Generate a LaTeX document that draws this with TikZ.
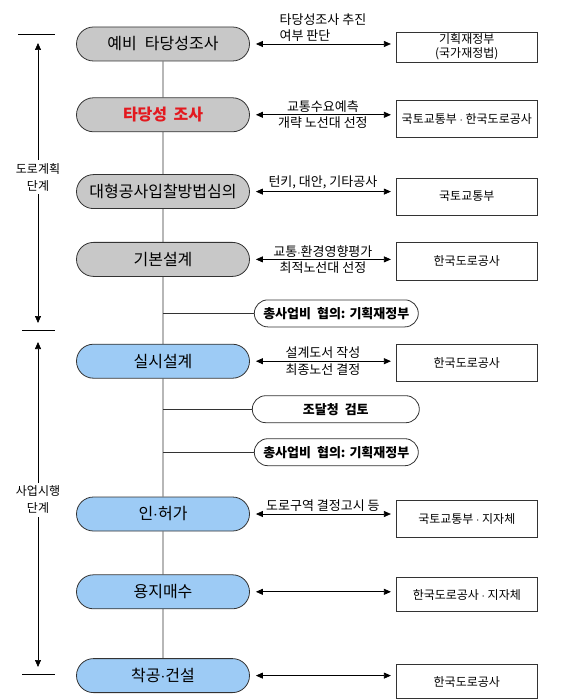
\documentclass[tikz,border=0pt]{standalone}
\usepackage{fontspec}
\setmainfont{Noto Sans CJK KR}
\usepackage{tikz}
\usetikzlibrary{shapes.misc, arrows.meta, positioning}
\definecolor{stagegrey}{HTML}{C8C8C8}
\definecolor{stageblue}{HTML}{9DCBF5}
\definecolor{feasred}{HTML}{E3191F}
\definecolor{edgegrey}{HTML}{333333}

\begin{document}
\begin{tikzpicture}[
  x=1pt, y=-1pt,
  stage/.style={rounded rectangle, draw=edgegrey, line width=0.8pt, fill=stagegrey,
    minimum width=177pt, minimum height=34pt, inner sep=2pt, font=\fontsize{16}{18}\selectfont},
  runstage/.style={stage, fill=stageblue},
  agency/.style={rectangle, draw=edgegrey, line width=0.8pt, fill=white, align=center,
    minimum width=141pt, minimum height=37pt, inner sep=1pt, font=\fontsize{12}{14}\selectfont},
  sidepill/.style={rounded rectangle, draw=edgegrey, line width=0.8pt, fill=white, anchor=west,
    minimum width=166pt, minimum height=27pt, inner sep=1pt, font=\fontsize{13}{15}\selectfont\bfseries},
  phase/.style={align=center, inner sep=3pt, font=\fontsize{12}{17}\selectfont},
  lbl/.style={font=\fontsize{13}{16}\selectfont, inner sep=2pt},
  biarrow/.style={{Triangle[length=7pt,width=6pt]}-{Triangle[length=7pt,width=6pt]}, line width=0.7pt,
    shorten <=6pt, shorten >=5pt},
  arrow/.style={-{Triangle[length=7pt,width=6pt]}, line width=0.7pt},
  stem/.style={line width=0.7pt, draw=edgegrey},
  tick/.style={line width=0.7pt}
]
\useasboundingbox (0,0) rectangle (560,700);

% main stages
\node[stage] (pre) at (163,44) {예비\hspace{0.5em}타당성조사};
\node[stage, below=36pt of pre] (feas) {\textbf{\textcolor{feasred}{타당성\hspace{0.4em}조사}}};
\node[stage, below=42pt of feas] (bid) {대형공사입찰방법심의};
\node[stage, below=33pt of bid] (basic) {기본설계};
\node[runstage, below=67pt of basic] (design) {실시설계};
\node[runstage, below=118pt of design] (permit) {인$\cdot$허가};
\node[runstage, below=43pt of permit] (land) {용지매수};
\node[runstage, below=49pt of land] (build) {착공$\cdot$건설};

\foreach \a/\b in {pre/feas, feas/bid, bid/basic, basic/design, design/permit, permit/land, land/build}
  \draw[stem] (\a) -- (\b);

% agencies
\node[agency, right=146pt of pre, yshift=-3pt, minimum height=30pt, font=\fontsize{12}{14}\selectfont] (ag1) {기획재정부\\(국가재정법)};
\node[agency, right=146pt of feas, yshift=-4pt] (ag2) {국토교통부 $\cdot$ 한국도로공사};
\node[agency, right=146pt of bid, yshift=-5pt] (ag3) {국토교통부};
\node[agency, right=146pt of basic, yshift=-2pt] (ag4) {한국도로공사};
\node[agency, right=146pt of design, yshift=-2pt] (ag5) {한국도로공사};
\node[agency, right=146pt of permit, yshift=-5pt] (ag6) {국토교통부 $\cdot$ 지자체};
\node[agency, right=146pt of land, yshift=-3pt, minimum height=34pt] (ag7) {한국도로공사 $\cdot$ 지자체};
\node[agency, right=146pt of build, yshift=-6pt, minimum height=34pt] (ag8) {한국도로공사};

\draw[biarrow] (pre.east) -- node[lbl, above, align=left] {타당성조사\ 추진\\여부\ 판단} (pre.east -| ag1.west);
\draw[biarrow] (feas.east) -- node[lbl, above] {교통수요예측} node[lbl, below] {개략\ 노선대\ 선정} (feas.east -| ag2.west);
\draw[biarrow] (bid.east) -- node[lbl, above] {턴키, 대안, 기타공사} (bid.east -| ag3.west);
\draw[biarrow] (basic.east) -- node[lbl, above] {교통$\cdot$환경영향평가} node[lbl, below] {최적노선대\ 선정} (basic.east -| ag4.west);
\draw[biarrow] (design.east) -- node[lbl, above] {설계도서\ 작성} node[lbl, below] {최종노선\ 결정} (design.east -| ag5.west);
\draw[biarrow] (permit.east) -- node[lbl, above] {도로구역\ 결정고시\ 등} (permit.east -| ag6.west);
\draw[biarrow] (land.east) -- (land.east -| ag7.west);
\draw[biarrow] (build.east) -- (build.east -| ag8.west);

% side checks
\node[sidepill] (cost1) at ([xshift=4pt, yshift=-54pt]basic.east) {총사업비\ \ 협의: 기획재정부};
\node[sidepill, minimum width=169pt] (review) at ([xshift=2pt, yshift=-48pt]design.east) {조달청\ \ 검토};
\node[sidepill] (cost2) at ([xshift=4pt, yshift=-91pt]design.east) {총사업비\ \ 협의: 기획재정부};
\draw[stem] (cost1.west -| basic.south) -- (cost1.west);
\draw[stem] (review.west -| design.south) -- (review.west);
\draw[stem] (cost2.west -| design.south) -- (cost2.west);

% phases
\coordinate (planTop) at (38,34);
\coordinate (phaseMid) at (38,330);
\coordinate (execEnd) at (38,674);
\node[phase] (plan) at (38,177) {도로계획\\단계};
\node[phase] (exec) at (38,500) {사업시행\\단계};
\draw[tick] ([xshift=-20pt]planTop) -- ([xshift=17pt]planTop);
\draw[tick] ([xshift=-16pt]phaseMid) -- ([xshift=17pt]phaseMid);
\draw[tick] ([xshift=-16pt]execEnd) -- ([xshift=17pt]execEnd);
\draw[arrow, shorten >=9pt] (plan) -- (planTop);
\draw[arrow, shorten >=7pt] (plan) -- (phaseMid);
\draw[arrow, shorten >=12pt] (exec) -- (phaseMid);
\draw[arrow, shorten >=7pt] (exec) -- (execEnd);
\end{tikzpicture}
\end{document}
